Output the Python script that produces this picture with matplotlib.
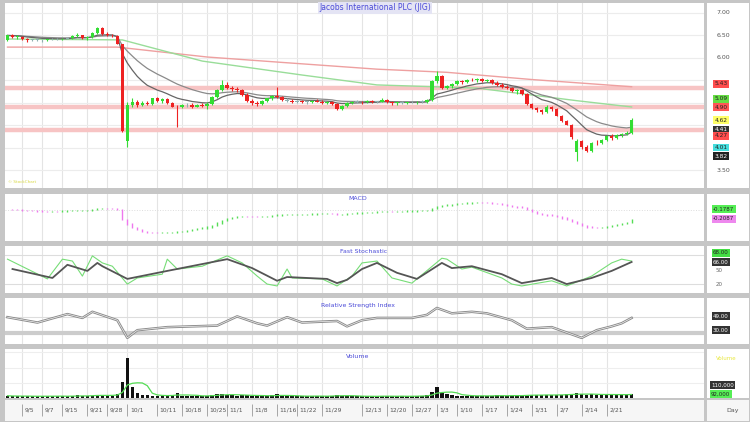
import numpy as np
import pandas as pd
import matplotlib
matplotlib.use("Agg")
import matplotlib.pyplot as plt

W, H = 750, 422

title = "Jacobs International PLC (JIG)"

# daily candles (price)
opens = [6.40, 6.50, 6.46, 6.47, 6.42, 6.40, 6.41, 6.40, 6.39, 6.41,
         6.42, 6.41, 6.43, 6.44, 6.48, 6.50, 6.44, 6.46, 6.56, 6.66,
         6.54, 6.52, 6.48, 6.30, 4.15, 4.95, 5.02, 4.96, 5.00, 4.98,
         5.10, 5.05, 5.08, 5.00, 4.92, 4.90, 4.95, 4.96, 4.92, 4.96,
         4.94, 4.98, 5.14, 5.28, 5.40, 5.34, 5.30, 5.28, 5.18, 5.05,
         5.00, 4.98, 5.04, 5.10, 5.16, 5.14, 5.06, 5.05, 5.03, 5.04,
         5.02, 5.03, 5.05, 5.03, 5.00, 5.02, 4.98, 4.86, 4.94, 5.00,
         5.02, 5.03, 5.01, 5.04, 5.02, 5.03, 5.07, 5.02, 4.99, 5.01,
         5.00, 5.02, 5.01, 5.03, 5.02, 5.06, 5.48, 5.60, 5.34, 5.38,
         5.42, 5.48, 5.46, 5.52, 5.50, 5.53, 5.49, 5.51, 5.44, 5.40,
         5.36, 5.34, 5.26, 5.28, 5.20, 4.98, 4.88, 4.84, 4.80, 4.92,
         4.86, 4.72, 4.60, 4.52, 3.90, 4.16, 4.02, 3.94, 4.12, 4.10,
         4.18, 4.26, 4.22, 4.28, 4.32, 4.34]
highs = [6.52, 6.53, 6.50, 6.49, 6.45, 6.43, 6.44, 6.42, 6.43, 6.44,
         6.45, 6.44, 6.46, 6.50, 6.55, 6.52, 6.48, 6.58, 6.68, 6.68,
         6.58, 6.54, 6.50, 6.32, 5.02, 5.10, 5.06, 5.04, 5.05, 5.12,
         5.14, 5.12, 5.10, 5.02, 4.96, 4.98, 5.00, 5.00, 4.98, 5.00,
         5.02, 5.16, 5.30, 5.52, 5.46, 5.38, 5.36, 5.32, 5.22, 5.08,
         5.04, 5.06, 5.12, 5.18, 5.36, 5.16, 5.10, 5.08, 5.06, 5.07,
         5.05, 5.06, 5.08, 5.06, 5.04, 5.05, 5.00, 4.96, 5.02, 5.04,
         5.06, 5.05, 5.06, 5.07, 5.05, 5.10, 5.09, 5.04, 5.03, 5.04,
         5.03, 5.05, 5.04, 5.06, 5.08, 5.50, 5.70, 5.62, 5.40, 5.44,
         5.50, 5.52, 5.54, 5.56, 5.55, 5.56, 5.54, 5.53, 5.48, 5.44,
         5.40, 5.36, 5.30, 5.30, 5.22, 5.00, 4.92, 4.86, 4.96, 4.94,
         4.88, 4.74, 4.62, 4.54, 4.20, 4.18, 4.06, 4.14, 4.18, 4.20,
         4.28, 4.30, 4.30, 4.34, 4.38, 4.66]
lows = [6.38, 6.44, 6.42, 6.40, 6.36, 6.37, 6.38, 6.36, 6.37, 6.39,
        6.40, 6.39, 6.41, 6.42, 6.46, 6.42, 6.40, 6.45, 6.54, 6.52,
        6.48, 6.46, 6.30, 4.36, 4.02, 4.90, 4.92, 4.94, 4.95, 4.96,
        5.02, 5.00, 4.98, 4.90, 4.46, 4.88, 4.90, 4.88, 4.90, 4.92,
        4.86, 4.96, 5.12, 5.26, 5.30, 5.26, 5.24, 5.16, 5.02, 4.96,
        4.94, 4.96, 5.02, 5.06, 5.12, 5.04, 5.02, 5.00, 4.99, 5.00,
        4.98, 5.00, 5.01, 4.98, 4.97, 4.96, 4.84, 4.84, 4.92, 4.97,
        4.99, 4.98, 4.99, 5.00, 4.99, 5.01, 5.00, 4.96, 4.96, 4.98,
        4.97, 4.99, 4.98, 5.00, 5.00, 5.05, 5.44, 5.30, 5.30, 5.34,
        5.40, 5.42, 5.44, 5.48, 5.46, 5.47, 5.46, 5.42, 5.38, 5.34,
        5.30, 5.24, 5.20, 5.18, 4.96, 4.86, 4.80, 4.76, 4.78, 4.82,
        4.70, 4.58, 4.50, 4.20, 3.70, 3.98, 3.90, 3.92, 4.06, 4.08,
        4.16, 4.18, 4.20, 4.24, 4.28, 4.32]
closes = [6.50, 6.46, 6.48, 6.42, 6.40, 6.41, 6.40, 6.39, 6.41, 6.42,
          6.41, 6.43, 6.44, 6.48, 6.50, 6.44, 6.46, 6.56, 6.66, 6.54,
          6.52, 6.50, 6.32, 4.38, 4.95, 5.02, 4.96, 5.00, 4.98, 5.10,
          5.05, 5.08, 5.00, 4.92, 4.90, 4.95, 4.96, 4.92, 4.96, 4.94,
          4.98, 5.14, 5.28, 5.40, 5.34, 5.30, 5.28, 5.18, 5.05, 5.00,
          4.98, 5.04, 5.10, 5.16, 5.14, 5.06, 5.05, 5.03, 5.04, 5.02,
          5.03, 5.05, 5.03, 5.00, 5.02, 4.98, 4.86, 4.94, 5.00, 5.02,
          5.03, 5.01, 5.04, 5.02, 5.03, 5.07, 5.02, 4.99, 5.01, 5.00,
          5.02, 5.01, 5.03, 5.02, 5.06, 5.48, 5.60, 5.34, 5.38, 5.42,
          5.48, 5.46, 5.52, 5.50, 5.53, 5.49, 5.51, 5.44, 5.40, 5.36,
          5.34, 5.26, 5.28, 5.20, 4.98, 4.88, 4.84, 4.80, 4.92, 4.86,
          4.72, 4.60, 4.52, 4.24, 4.16, 4.02, 3.94, 4.12, 4.10, 4.18,
          4.26, 4.22, 4.28, 4.32, 4.34, 4.62]
# volume in thousands
volumes = [60, 45, 50, 40, 55, 45, 40, 50, 45, 55,
           50, 45, 40, 55, 70, 60, 50, 65, 90, 75,
           60, 55, 110, 430, 1050, 290, 120, 90, 70, 65,
           60, 55, 70, 80, 130, 60, 55, 50, 60, 55,
           60, 80, 95, 110, 85, 70, 65, 75, 80, 60,
           55, 50, 60, 70, 95, 60, 50, 45, 50, 55,
           45, 50, 55, 40, 50, 60, 85, 60, 50, 45,
           40, 45, 50, 45, 40, 55, 50, 45, 40, 50,
           45, 50, 55, 60, 70, 160, 290, 140, 110, 80,
           60, 55, 65, 50, 55, 60, 50, 65, 70, 60,
           55, 60, 70, 65, 90, 80, 75, 70, 85, 80,
           90, 85, 95, 110, 120, 95, 90, 100, 85, 95,
           90, 85, 95, 80, 90, 110]

# long moving averages
red_ma_x = [0, 22, 40, 55, 74, 88, 105, 125]
red_ma_y = [6.24, 6.24, 6.02, 5.90, 5.75, 5.68, 5.52, 5.36]
green_ma_x = [0, 23, 39, 59, 74, 94, 114, 125]
green_ma_y = [6.42, 6.40, 5.93, 5.62, 5.40, 5.33, 5.05, 4.91]
levels = [5.33, 4.91, 4.40]

stoch_slow_x = [1, 9, 12, 16, 18, 19, 24, 32, 44, 49, 54, 56, 64, 66, 68, 71, 74, 78, 82, 87,
                89, 93, 99, 103, 109, 112, 117, 121, 125]
stoch_slow_y = [51, 32, 60, 47, 64, 57, 30, 47, 72, 53, 26, 34, 30, 21, 28, 51, 64, 43, 30, 64,
                53, 57, 40, 21, 32, 19, 32, 47, 66]
stoch_fast_x = [0, 8, 11, 13, 15, 17, 19, 21, 24, 26, 31, 32, 34, 39, 44, 47, 50, 52, 54, 56,
                57, 63, 66, 69, 71, 74, 77, 81, 87, 88, 91, 93, 99, 101, 103, 109, 112, 117, 121, 123, 125]
stoch_fast_y = [72, 30, 72, 68, 36, 79, 64, 57, 19, 32, 40, 72, 51, 57, 79, 64, 36, 19, 15, 51,
                32, 30, 15, 36, 64, 68, 32, 21, 74, 72, 51, 55, 32, 19, 15, 26, 15, 36, 64, 72, 68]

rsi_x = [0, 6, 12, 15, 17, 22, 24, 26, 32, 42, 46, 50, 52, 56, 59, 66, 68, 71, 74, 81,
         84, 86, 89, 93, 96, 101, 104, 109, 112, 115, 118, 121, 123, 125]
rsi_y = [50, 43, 54, 49, 57, 46, 23, 33, 37, 39, 51, 42, 39, 50, 43, 45, 38, 46, 49, 49,
         53, 62, 55, 57, 55, 46, 35, 37, 30, 23, 33, 38, 42, 49]

tick_idx = [3, 7, 11, 16, 20, 24, 30, 35, 40, 44, 49, 54, 58, 63, 71, 76, 81, 86, 90, 95,
            100, 105, 110, 115, 120]
tick_labels = ["9/5", "9/7", "9/15", "9/21", "9/28", "10/1", "10/11", "10/18", "10/25", "11/1",
               "11/8", "11/16", "11/22", "11/29", "12/13", "12/20", "12/27", "1/3", "1/10", "1/17",
               "1/24", "1/31", "2/7", "2/14", "2/21"]

box_vals = [5.43, 5.09, 4.90, 4.62, 4.41, 4.27, 4.01, 3.82]
box_cols = ["#ff4d4d", "#66dd44", "#ff5555", "#ffff66", "#333333", "#ff4d4d", "#44dddd", "#222222"]
price_ticks = [7.0, 6.5, 6.0, 3.5]


def rect(x0, y0, x1, y1):
    return [x0 / W, 1 - y1 / H, (x1 - x0) / W, (y1 - y0) / H]


def blank(ax):
    ax.set_xticks([])
    ax.set_yticks([])
    for s in ax.spines.values():
        s.set_visible(False)


fig = plt.figure(figsize=(W / 100, H / 100), dpi=100, facecolor="#c6c6c6")

rows = [(3, 188), (194, 241), (246, 293), (298, 344), (349, 398)]
axes = []
for (y0, y1) in rows:
    ax = fig.add_axes(rect(5, y0, 704, y1), facecolor="white")
    blank(ax)
    ax.set_xlim(-0.5, 139.5)
    for t in tick_idx:
        ax.axvline(t, color="#e4e4e4", lw=0.8, zorder=0)
    axr = fig.add_axes(rect(707, y0, 749, y1), facecolor="white")
    blank(axr)
    axr.set_xlim(0, 1)
    axes.append((ax, axr))

idx = np.arange(len(closes))
o = np.array(opens)
c = np.array(closes)
s = pd.Series(closes)

# ---- price panel
ax, axr = axes[0]
ax.set_ylim(3.11, 7.22)
axr.set_ylim(3.11, 7.22)
for v in np.arange(3.5, 7.01, 0.5):
    ax.axhline(v, color="#ececec", lw=0.8, zorder=0)
ax.hlines(levels, -0.5, 139.5, color="#f7c4c4", lw=3.2, zorder=0.5)
ax.plot(red_ma_x, red_ma_y, color="#eea0a0", lw=1.0, zorder=1)
ax.plot(green_ma_x, green_ma_y, color="#99dd99", lw=1.0, zorder=1)
ax.plot(idx, s.ewm(span=20, adjust=False).mean(), color="#8a8a8a", lw=0.9, zorder=1)
ax.plot(idx, s.ewm(span=10, adjust=False).mean(), color="#666666", lw=0.9, zorder=1)

cols = []
for oo, cc in zip(o, c):
    if abs(cc - oo) < 0.015:
        cols.append("#8fb0b0")
    elif cc >= oo:
        cols.append("#33dd33")
    else:
        cols.append("#ee2222")
ax.vlines(idx, lows, highs, colors=cols, lw=0.8, zorder=2)
body = np.maximum(np.abs(c - o), 0.012)
ax.bar(idx, body, bottom=np.minimum(o, c), width=0.7, color=cols, lw=0, zorder=3)

fig.text(375 / W, 1 - 8 / H, title, fontsize=5.5, color="#4a4ad8", ha="center", va="center",
         bbox=dict(boxstyle="square,pad=0.15", fc="#e4e4f4", ec="none"))
fig.text(8 / W, 1 - 182 / H, "© StockChart", fontsize=3, color="#d8d840", ha="left", va="center")

for v in price_ticks:
    axr.text(0.22, v, f"{v:.2f}", fontsize=4.5, color="#555555", va="center", ha="left")
for v, col in zip(box_vals, box_cols):
    tc = "white" if col in ("#333333", "#222222") else "#222222"
    axr.text(0.18, v, f"{v:.2f}", fontsize=4.2, color=tc, va="center", ha="left",
             bbox=dict(boxstyle="square,pad=0.25", fc=col, ec="none"))

# ---- MACD
ax, axr = axes[1]
macd = (s.ewm(span=12, adjust=False).mean() - s.ewm(span=26, adjust=False).mean()).values
lo = macd.min() * 1.36
hi = -lo * 0.5
ax.set_ylim(lo, hi)
ax.axhline(0, color="#dddddd", lw=0.7, ls=":", zorder=0)
eps = (hi - lo) * 0.025
prev = macd[:-1]
cur = macd[1:]
seg_lo = np.minimum(prev, cur) - eps / 2
seg_hi = np.maximum(prev, cur) + eps / 2
seg_cols = ["#55dd55" if b >= a else "#ee77ee" for a, b in zip(prev, cur)]
ax.vlines(idx[1:], seg_lo, seg_hi, colors=seg_cols, lw=1.0)
fig.text(358 / W, 1 - 199 / H, "MACD", fontsize=4.5, color="#4a4ad8", ha="center", va="center")
fig.text(713 / W, 1 - 209 / H, f"{macd[-1]:.4f}", fontsize=4, color="#222222", va="center",
         bbox=dict(boxstyle="square,pad=0.25", fc="#55ee55", ec="none"))
fig.text(713 / W, 1 - 219 / H, f"{macd[-1] - 0.03:.4f}", fontsize=4, color="#222222", va="center",
         bbox=dict(boxstyle="square,pad=0.25", fc="#ee88ee", ec="none"))

# ---- stochastic
ax, axr = axes[2]
ax.set_ylim(0, 100)
ax.axhline(80, color="#dddddd", lw=0.8, zorder=0)
ax.axhline(20, color="#dddddd", lw=0.8, zorder=0)
ax.plot(stoch_fast_x, stoch_fast_y, color="#77dd77", lw=0.8)
ax.plot(stoch_slow_x, stoch_slow_y, color="#555555", lw=1.3)
fig.text(364 / W, 1 - 252 / H, "Fast Stochastic", fontsize=4.5, color="#4a4ad8", ha="center", va="center")
fig.text(713 / W, 1 - 253 / H, f"{stoch_fast_y[-1]:.2f}", fontsize=4, color="#222222", va="center",
         bbox=dict(boxstyle="square,pad=0.25", fc="#44dd44", ec="none"))
fig.text(713 / W, 1 - 262 / H, f"{stoch_slow_y[-1]:.2f}", fontsize=4, color="white", va="center",
         bbox=dict(boxstyle="square,pad=0.25", fc="#333333", ec="none"))
fig.text(716 / W, 1 - 271 / H, "50", fontsize=4, color="#666666", va="center")
fig.text(716 / W, 1 - 285 / H, "20", fontsize=4, color="#666666", va="center")

# ---- RSI
ax, axr = axes[3]
ax.set_ylim(15, 75)
ax.axhline(50, color="#dddddd", lw=0.8, zorder=0)
ax.axhline(30, color="#cccccc", lw=3, zorder=0)
ax.plot(rsi_x, rsi_y, color="#8a8a8a", lw=1.8)
ax.plot(rsi_x, rsi_y, color="#f2f2f2", lw=0.5)
fig.text(358 / W, 1 - 306 / H, "Relative Strength Index", fontsize=4.5, color="#4a4ad8", ha="center", va="center")
fig.text(713 / W, 1 - 316 / H, f"{rsi_y[-1]:.2f}", fontsize=4, color="white", va="center",
         bbox=dict(boxstyle="square,pad=0.25", fc="#333333", ec="none"))
fig.text(713 / W, 1 - 330 / H, "30.00", fontsize=4, color="white", va="center",
         bbox=dict(boxstyle="square,pad=0.25", fc="#333333", ec="none"))

# ---- volume
ax, axr = axes[4]
ax.set_ylim(0, 1290)
for v in (400, 800, 1200):
    ax.axhline(v, color="#eeeeee", lw=0.8, zorder=0)
ax.bar(idx, volumes, width=0.7, color="#111111", lw=0, zorder=2)
vol_ma = pd.Series(volumes).rolling(5, min_periods=1).mean()
ax.plot(idx, vol_ma, color="#55dd55", lw=0.9, zorder=3)
fig.text(358 / W, 1 - 357 / H, "Volume", fontsize=4.5, color="#4a4ad8", ha="center", va="center")
fig.text(716 / W, 1 - 358 / H, "Volume", fontsize=4, color="#e8e840", va="center")
fig.text(711 / W, 1 - 385 / H, f"{volumes[-1] * 1000:,}", fontsize=4, color="white", va="center",
         bbox=dict(boxstyle="square,pad=0.25", fc="#333333", ec="none"))
fig.text(711 / W, 1 - 394 / H, f"{int(vol_ma.iloc[-1] * 1000):,}", fontsize=4, color="#222222", va="center",
         bbox=dict(boxstyle="square,pad=0.25", fc="#55ee55", ec="none"))

# ---- date strip
axd = fig.add_axes(rect(5, 400, 704, 421), facecolor="#f6f6f6")
blank(axd)
axd.set_xlim(-0.5, 139.5)
axd.set_ylim(0, 1)
for t, lab in zip(tick_idx, tick_labels):
    axd.vlines(t, 0.25, 0.8, color="#999999", lw=0.6)
    axd.text(t + 0.5, 0.52, lab, fontsize=4.3, color="#555555", ha="left", va="center")
axdr = fig.add_axes(rect(707, 400, 749, 421), facecolor="#f6f6f6")
blank(axdr)
axdr.text(0.6, 0.5, "Day", fontsize=4.5, color="#555555", ha="center", va="center", transform=axdr.transAxes)

fig.savefig("out.png", dpi=100, facecolor=fig.get_facecolor())
